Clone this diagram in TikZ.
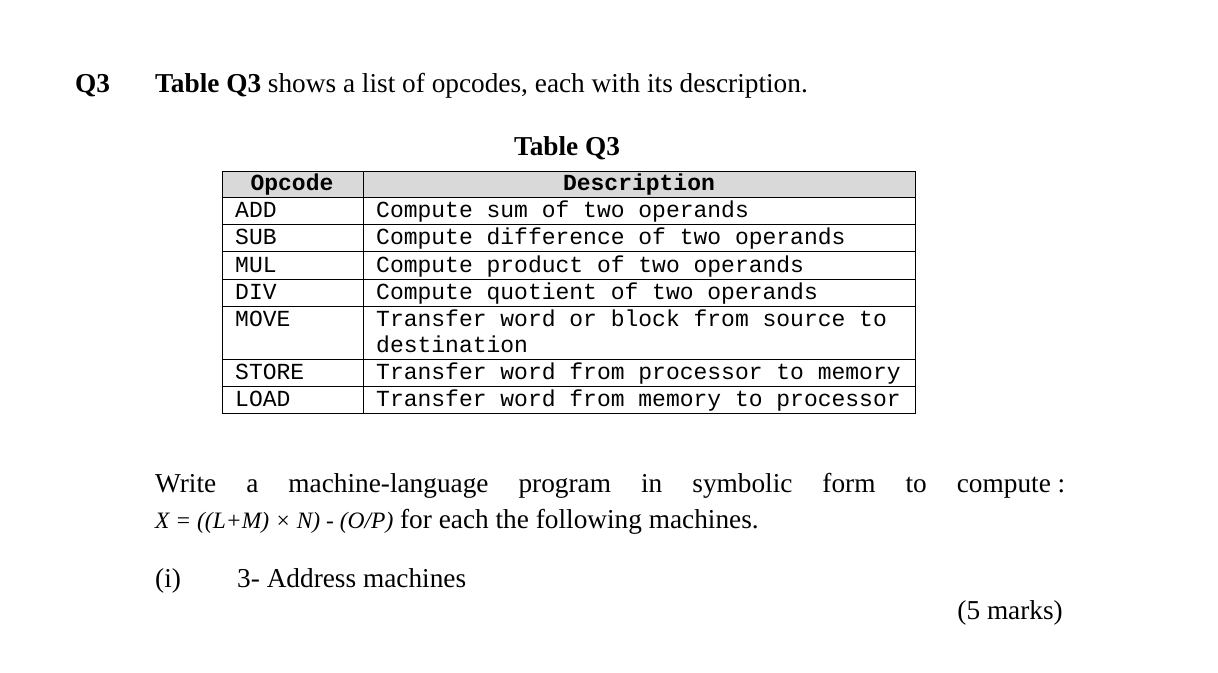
\documentclass[tikz,border=0pt]{standalone}
\usepackage{fontspec}
\setmainfont{Liberation Serif}
\newfontfamily\cour{Liberation Mono}
\begin{document}
\begin{tikzpicture}[x=1pt,y=-1pt,
  srf/.style={font=\fontsize{27.3}{32}\selectfont,inner sep=0,anchor=base west},
  mono/.style={font=\cour\fontsize{23}{26}\selectfont,inner sep=0,anchor=base west},
  cell/.style={draw=black,line width=0.9pt}]
\useasboundingbox (0,0) rectangle (1218,672);
\node[srf,font=\bfseries\fontsize{27.3}{32}\selectfont] (q) at (75,92) {Q3};
\node[srf] (intro) at (155,92) {\textbf{Table Q3} shows a list of opcodes, each with its description.};
\node[srf,anchor=base,font=\bfseries\fontsize{27.3}{32}\selectfont] (cap) at (567,155) {Table Q3};
\fill[gray!30] (222,171) rectangle (915,197);
\foreach \a/\b in {171/197,197/224,224/251,251/279,279/306,306/359,359/386,386/413}{
  \draw[cell] (222,\a) rectangle (363,\b);
  \draw[cell] (363,\a) rectangle (915,\b);
}
\node[mono,anchor=base,font=\cour\bfseries\fontsize{23}{26}\selectfont] (h1) at (292,190) {Opcode};
\node[mono,anchor=base,font=\cour\bfseries\fontsize{23}{26}\selectfont] (h2) at (639,190) {Description};
\node[mono] (o1) at (235,217) {ADD};
\node[mono] (d1) at (376,217) {Compute sum of two operands};
\node[mono] (o2) at (235,244) {SUB};
\node[mono] (d2) at (376,244) {Compute difference of two operands};
\node[mono] (o3) at (235,272) {MUL};
\node[mono] (d3) at (376,272) {Compute product of two operands};
\node[mono] (o4) at (235,299) {DIV};
\node[mono] (d4) at (376,299) {Compute quotient of two operands};
\node[mono] (o5) at (235,326) {MOVE};
\node[mono] (d5) at (376,326) {Transfer word or block from source to};
\node[mono] (d5b) at (376,352) {destination};
\node[mono] (o6) at (235,379) {STORE};
\node[mono] (d6) at (376,379) {Transfer word from processor to memory};
\node[mono] (o7) at (235,406) {LOAD};
\node[mono] (d7) at (376,406) {Transfer word from memory to processor};
\node[srf] (w1) at (155,492) {\makebox[910pt][s]{Write\hfill a\hfill machine-language\hfill program\hfill in\hfill symbolic\hfill form\hfill to\hfill compute :}};
\node[srf] (w2) at (155,528) {{\itshape\fontsize{23.5}{28}\selectfont X = ((L+M) × N) - (O/P)} for each the following machines.};
\node[srf] (i) at (155,587) {(i)};
\node[srf] (am) at (237,587) {3- Address machines};
\node[srf,anchor=base east] (mk) at (1063,619) {(5 marks)};
\end{tikzpicture}
\end{document}
